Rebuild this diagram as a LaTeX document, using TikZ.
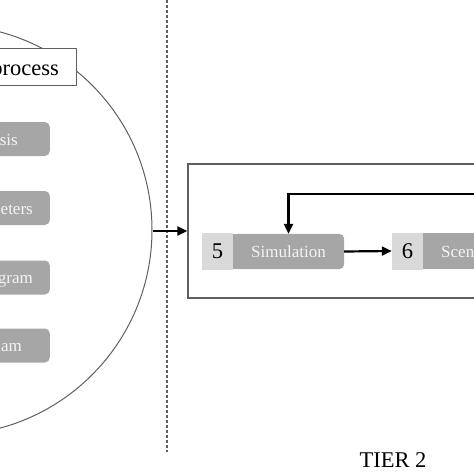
\documentclass[tikz,border=0pt]{standalone}
\usepackage{fontspec}
\setmainfont{Liberation Serif}
\usetikzlibrary{arrows.meta,backgrounds}
\definecolor{boxgray}{HTML}{A6A6A6}
\definecolor{numgray}{HTML}{D9D9D9}
\definecolor{linegray}{HTML}{5F5F5F}
\definecolor{txtwhite}{HTML}{F4F4F4}
\begin{document}
\begin{tikzpicture}[x=1pt,y=-1pt,
  bigtxt/.style={font=\fontsize{22.5}{25}\selectfont},
  smalltxt/.style={font=\fontsize{17}{20}\selectfont, text=txtwhite},
  leftbox/.style={fill=boxgray, rounded corners=5pt, inner sep=0pt, minimum width=110pt, minimum height=34pt, anchor=east},
  numbox/.style={fill=numgray, inner sep=0pt, minimum width=31pt, minimum height=37pt, bigtxt},
  arr/.style={line width=2.2pt, -{Triangle[length=10pt,width=9pt]}},
  thinline/.style={draw=linegray, line width=1pt},
]
\useasboundingbox (0,0) rectangle (474,474);
% left circle
\node[circle, thinline, minimum size=410pt, inner sep=0pt] (circ) at (-53,230) {};
% title box
\node[thinline, fill=white, minimum width=156pt, minimum height=37pt, inner sep=0pt] (title) at (-2,66.5) {};
\node[bigtxt, anchor=base east, inner sep=0pt] (titletxt) at (59,75) {process};
% left boxes
\node[leftbox] (b1) at (50,139) {};
\node[leftbox] (b2) at (50,208) {};
\node[leftbox] (b3) at (50,277.5) {};
\node[leftbox] (b4) at (50,345.5) {};
\node[smalltxt, anchor=base east, inner sep=0pt] (t1) at (18,145.5) {sis};
\node[smalltxt, anchor=base east, inner sep=0pt] (t2) at (33,214.5) {eters};
\node[smalltxt, anchor=base east, inner sep=0pt] (t3) at (33,283.5) {gram};
\node[smalltxt, anchor=base east, inner sep=0pt] (t4) at (22,351.5) {am};
% dashed divider
\coordinate (dtop) at (167,0);
\coordinate (dbot) at (167,452);
\draw[linegray, line width=1.2pt, dash pattern=on 3pt off 2pt] (dtop) -- (dbot);
% tier 2 box
\node[draw=linegray, line width=1.2pt, minimum width=372pt, minimum height=134pt, inner sep=0pt] (tier) at (374,231) {};
% step 5
\node[numbox] (sq5) at (217.5,251.5) {5};
\node[smalltxt, minimum width=111pt, minimum height=35pt, inner sep=0pt] (sim) at (288.5,251.5) {Simulation};
% step 6
\node[numbox] (sq6) at (407.5,251) {6};
\node[minimum width=117pt, minimum height=36pt, inner sep=0pt] (scen) at (481.5,251) {};
\node[smalltxt, anchor=base west, inner sep=0pt] (scentxt) at (441,257) {Scen};
\begin{scope}[on background layer]
  \fill[boxgray, rounded corners=5pt] (sim.north west) rectangle (sim.south east);
  \fill[boxgray] (sim.north west) rectangle ([xshift=10pt]sim.south west);
  \fill[boxgray] (scen.north west) rectangle (scen.south east);
\end{scope}
% arrows
\draw[arr] (circ.east |- tier.west) -- (tier.west);
\draw[arr] (sim.east) -- (sq6.west);
\coordinate (fb) at (480,194);
\draw[arr] (fb) -| (sim.north);
% tier label
\node[bigtxt, anchor=base, inner sep=0pt] (tierlbl) at (393,467) {TIER 2};
\end{tikzpicture}
\end{document}
